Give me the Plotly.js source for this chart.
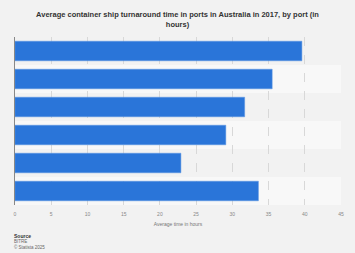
<!DOCTYPE html>
<html>
<head>
<meta charset="utf-8">
<script src="https://cdn.plot.ly/plotly-3.0.1.min.js"></script>
<style>html,body{margin:0;padding:0;background:#f2f2f2;}#chart{width:355px;height:253px;}</style>
</head>
<body>
<div id="chart"></div>
<script>
var ports = ["Brisbane", "Melbourne", "Sydney", "Fremantle", "Adelaide", "Australia"];
var hours = [39.6, 35.5, 31.7, 29.1, 22.9, 33.6];
var xTicks = [0, 5, 10, 15, 20, 25, 30, 35, 40, 45];

var shapes = [];
ports.forEach(function (p, i) {
  if (i % 2 === 1) {
    shapes.push({type: "rect", xref: "paper", yref: "y", x0: 0, x1: 1,
      y0: i - 0.5, y1: i + 0.5, fillcolor: "#f8f8f8", line: {width: 0}, layer: "below"});
  }
});

var data = [{
  type: "bar", orientation: "h", y: ports, x: hours,
  marker: {color: "#2a75d9", line: {color: "#5a95e3", width: 0.5}},
  hoverinfo: "x+y"
}];

var F = "Arial, Liberation Sans, sans-serif";
var layout = {
  width: 355, height: 253,
  margin: {l: 15, r: 14, t: 37, b: 48},
  paper_bgcolor: "#f2f2f2", plot_bgcolor: "#f2f2f2",
  bargap: 0.3,
  showlegend: false,
  title: {
    text: "<b>Average container ship turnaround time in ports in Australia in 2017, by port (in<br>hours)</b>",
    font: {family: F, size: 7.5, color: "#333"},
    x: 0.5, xanchor: "center", y: 0.932, yanchor: "middle"
  },
  xaxis: {
    range: [0, 45], tickvals: xTicks, ticktext: xTicks.map(String),
    showgrid: true, gridcolor: "#d8d8d8", griddash: "dash", gridwidth: 1,
    zeroline: false, showline: false,
    tickfont: {family: F, size: 5, color: "#888"},
    ticks: "outside", ticklen: 4, tickcolor: "rgba(0,0,0,0)",
    title: {text: "Average time in hours", font: {family: F, size: 5, color: "#777"}, standoff: 6}
  },
  yaxis: {
    autorange: "reversed", showticklabels: false, ticks: "",
    showline: true, linecolor: "#888", linewidth: 1, showgrid: false, zeroline: false
  },
  shapes: shapes,
  annotations: [
    {text: "<b>Source</b>", xref: "paper", yref: "paper", x: -0.01, y: -0.185, xanchor: "left", yanchor: "middle", showarrow: false,
      font: {family: F, size: 5, color: "#333"}},
    {text: "BITRE", xref: "paper", yref: "paper", x: -0.01, y: -0.217, xanchor: "left", yanchor: "middle", showarrow: false,
      font: {family: F, size: 4.5, color: "#666"}},
    {text: "© Statista 2025", xref: "paper", yref: "paper", x: -0.01, y: -0.25, xanchor: "left", yanchor: "middle", showarrow: false,
      font: {family: F, size: 4.5, color: "#666"}}
  ]
};

Plotly.newPlot("chart", data, layout, {staticPlot: true, displayModeBar: false});
</script>
</body>
</html>
